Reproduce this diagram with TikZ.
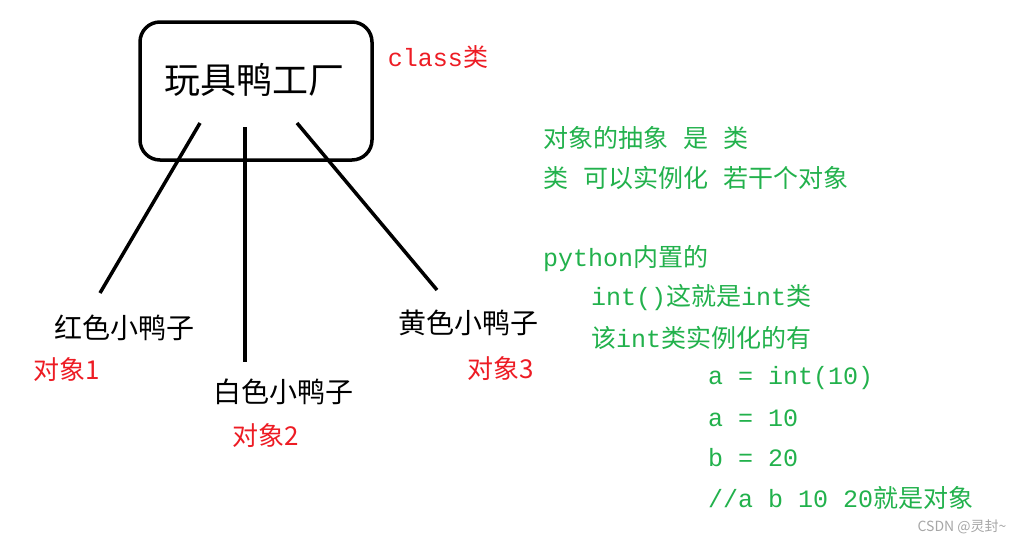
\documentclass[tikz,border=0pt]{standalone}
\usepackage{fontspec}
\newfontfamily\cjk{Noto Sans CJK SC}
\newfontfamily\mono{Liberation Mono}
\newcommand{\m}[1]{{\mono #1}}
\newcommand{\msp}{{\mono\ }}
\definecolor{gr}{RGB}{34,177,76}
\definecolor{rd}{RGB}{237,28,36}
\begin{document}
\begin{tikzpicture}[x=1pt,y=-1pt,
  lbl/.style={font=\cjk\fontsize{28}{30}\selectfont,inner sep=0pt},
  red/.style={lbl,text=rd,font=\cjk\fontsize{26}{28}\selectfont},
  gt/.style={lbl,text=gr,anchor=west,font=\cjk\fontsize{25}{27}\selectfont},
  ln/.style={line width=3.5pt}]
\useasboundingbox (0,0) rectangle (1034,546);
\node[draw,line width=3.5pt,rounded corners=20pt,minimum width=232pt,minimum height=138pt] (box) at (256,91) {};
\node[lbl,font=\cjk\fontsize{36}{38}\selectfont] (t) at (254,80) {玩具鸭工厂};
\node[red,font=\cjk\fontsize{25}{27}\selectfont] (cls) at (438,57) {\m{class}类};
\coordinate (a1) at (200,123); \coordinate (a2) at (100,293);
\coordinate (b1) at (245,127); \coordinate (b2) at (245,362);
\coordinate (c1) at (297,123); \coordinate (c2) at (437,290);
\draw[ln] (a1) -- (a2);
\draw[ln] (b1) -- (b2);
\draw[ln] (c1) -- (c2);
\node[lbl] (r) at (124,328) {红色小鸭子};
\node[red] (o1) at (67,370) {对象1};
\node[lbl] (w) at (283,392) {白色小鸭子};
\node[red] (o2) at (266,436) {对象2};
\node[lbl] (y) at (468,323) {黄色小鸭子};
\node[red] (o3) at (501,369) {对象3};
\node[gt] (g1) at (543,138) {对象的抽象\msp 是\msp 类};
\node[gt] (g2) at (543,178) {类\msp 可以实例化\msp 若干个对象};
\node[gt] (g3) at (543,259) {\m{python}内置的};
\node[gt] (g4) at (591,298) {\m{int()}这就是\m{int}类};
\node[gt] (g5) at (591,338) {该\m{int}类实例化的有};
\node[gt] (g6) at (708,378) {\m{a = int(10)}};
\node[gt] (g7) at (708,418) {\m{a = 10}};
\node[gt] (g8) at (708,458) {\m{b = 20}};
\node[gt] (g9) at (708,498) {\m{//a b 10 20}就是对象};
\node[lbl,font=\cjk\fontsize{14}{16}\selectfont,text=gray!70] (wm) at (962,527) {CSDN @灵封\textasciitilde};
\end{tikzpicture}
\end{document}
